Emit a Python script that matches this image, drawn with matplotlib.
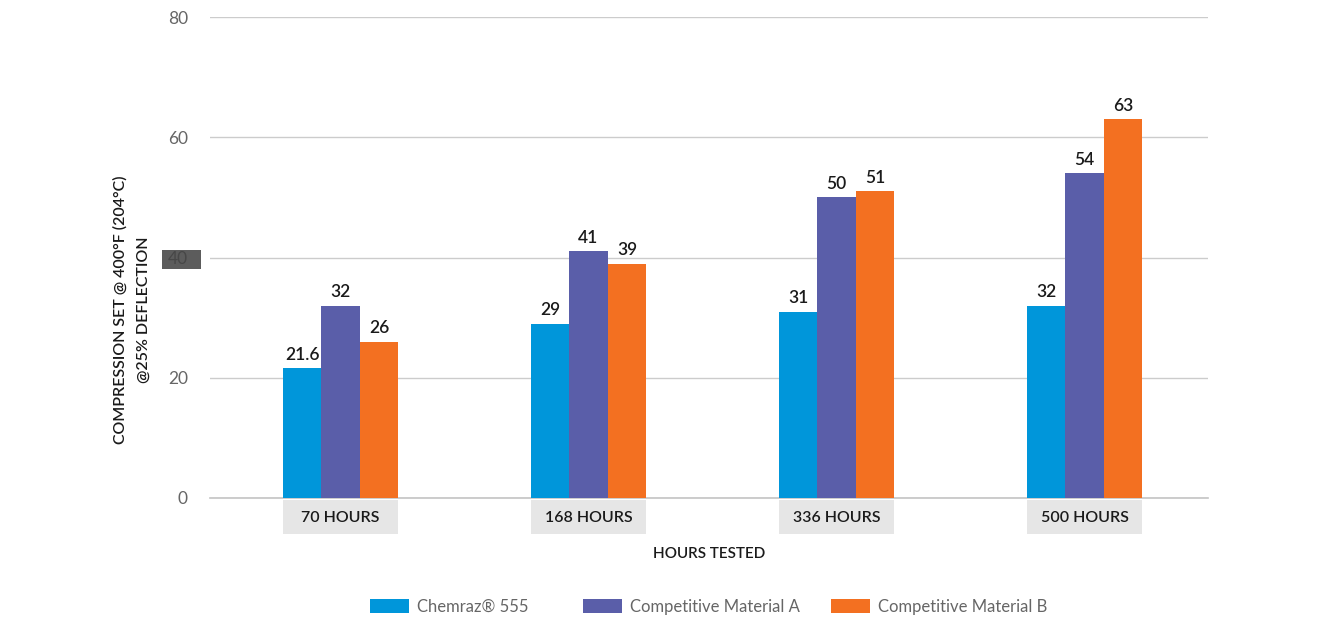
import matplotlib
matplotlib.use("Agg")
import matplotlib.pyplot as plt
from matplotlib.patches import Rectangle, Patch
import matplotlib.transforms as mtransforms
import numpy as np

categories = ["70 HOURS", "168 HOURS", "336 HOURS", "500 HOURS"]
series_names = ["Chemraz\u00ae 555", "Competitive Material A", "Competitive Material B"]
chemraz = [21.6, 29, 31, 32]
material_a = [32, 41, 50, 54]
material_b = [26, 39, 51, 63]
label_chemraz = ["21.6", "29", "31", "32"]
label_a = ["32", "41", "50", "54"]
label_b = ["26", "39", "51", "63"]
yticks = [0, 20, 40, 60, 80]

colors = ["#0096da", "#5a5ea9", "#f37021"]
font = "Lato"
plt.rcParams['font.family'] = [font, 'DejaVu Sans']

W, H = 1324, 630
fig = plt.figure(figsize=(W / 100, H / 100), dpi=100)
ax = fig.add_axes([210 / W, 1 - 498 / H, (1208 - 210) / W, (498 - 17) / H])

x = np.arange(len(categories))
bw = 0.155
all_vals = [chemraz, material_a, material_b]
all_labels = [label_chemraz, label_a, label_b]
for i, (vals, labs) in enumerate(zip(all_vals, all_labels)):
    pos = x + (i - 1) * bw
    ax.bar(pos, vals, width=bw, color=colors[i], zorder=3, label=series_names[i])
    for px_, v, l in zip(pos, vals, labs):
        ax.annotate(l, (px_, v), xytext=(0, 4), textcoords="offset points",
                    ha="center", va="bottom", fontsize=12.5, color="#1a1a1a",
                    fontweight="semibold")

ax.set_xlim(-0.526, 3.498)
ax.set_ylim(0, 80)
ax.set_yticks(yticks)
ax.set_yticklabels([str(t) for t in yticks])
ax.tick_params(axis="y", length=0, pad=16, labelsize=12.5, labelcolor="#666666")
ax.set_xticks([])
ax.grid(axis="y", color="#cccccc", linewidth=1, zorder=0)
ax.axhline(0, color="#c4c4c4", linewidth=1.2, zorder=2, clip_on=False)
for s in ax.spines.values():
    s.set_visible(False)

# highlighted box behind the 40 tick
fig.patches.append(Rectangle((162 / W, 1 - 269 / H), 39 / W, 19 / H,
                             transform=fig.transFigure, facecolor="#5c5c5c",
                             edgecolor="none", zorder=-1))
for t in ax.get_yticklabels():
    if t.get_text() == "40":
        t.set_color("#474747")

# category label boxes
trans = mtransforms.blended_transform_factory(ax.transData, ax.transAxes)
ax_h_px = 498 - 17
box_top = -2 / ax_h_px
box_h = 34 / ax_h_px
for xi, cat in zip(x, categories):
    ax.add_patch(Rectangle((xi - 1.5 * bw, box_top - box_h), 3 * bw, box_h,
                           transform=trans, facecolor="#e6e6e6", edgecolor="none",
                           clip_on=False, zorder=1))
    ax.text(xi, box_top - box_h / 2 - 1 / ax_h_px, cat, transform=trans, ha="center",
            va="center", fontsize=11.5, color="#1a1a1a", fontweight="semibold",
            clip_on=False)

fig.text(709 / W, 1 - 554 / H, "HOURS TESTED", ha="center", va="center",
         fontsize=11, color="#1a1a1a", fontweight="semibold")
fig.text(132 / W, 1 - 310 / H, "COMPRESSION SET @ 400\u00b0F (204\u00b0C)\n@25% DEFLECTION",
         rotation=90, ha="center", va="center", multialignment="center",
         fontsize=11.5, color="#1a1a1a", fontweight="semibold", linespacing=1.75)

# legend entries
leg_x = [370, 583, 831]
for i in range(3):
    h = Patch(facecolor=colors[i], edgecolor="none")
    lg = fig.legend([h], [series_names[i]], loc="center left",
                    bbox_to_anchor=(leg_x[i] / W, 1 - 607 / H), frameon=False,
                    fontsize=12, handlelength=2.35, handleheight=0.9,
                    handletextpad=0.45, borderpad=0, borderaxespad=0)
    for t in lg.get_texts():
        t.set_color("#666666")

fig.savefig("out.png", dpi=100)
